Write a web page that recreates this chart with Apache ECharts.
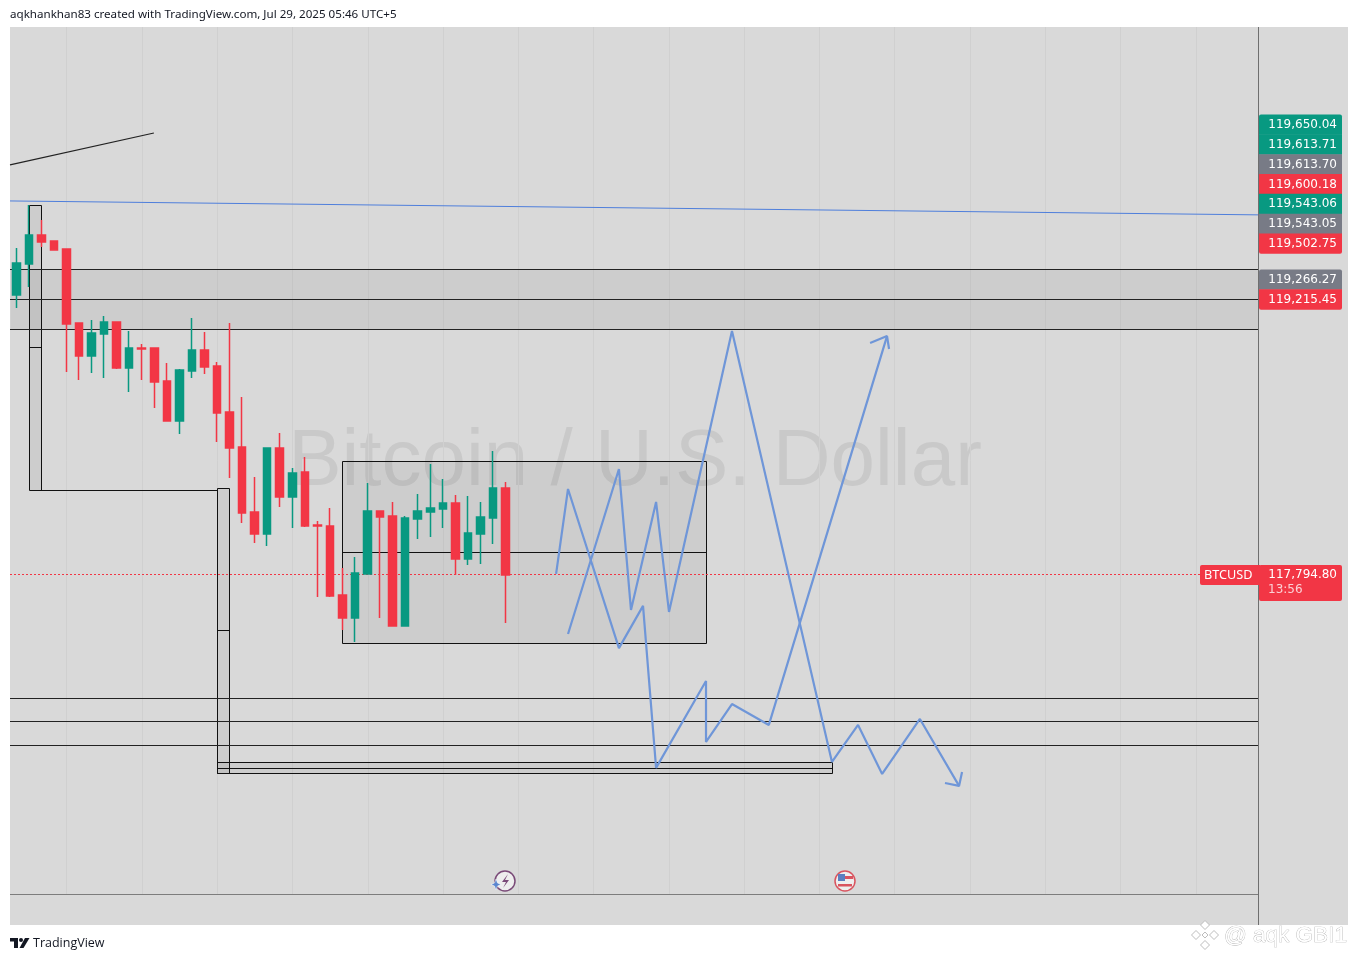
<!DOCTYPE html>
<html><head><meta charset="utf-8">
<style>html,body{margin:0;padding:0;background:#fff}#c{width:1358px;height:961px}</style>
<script src="https://cdn.jsdelivr.net/npm/echarts@6/dist/echarts.min.js"></script>
</head><body><div id="c"></div>
<script>
// ---- candle data (BTCUSD), one entry per bar ----
const opens  = [119236,119396,119546,119515,119474,119092,118921,119035,119097,118859,118962,118962,118792,118585,118843,118952,118869,118632,118451,118115,118001,118446,118193,118322,118048,118043,117686,117567,117795,118120,118094,117526,118079,118115,118131,118162,117872,118001,118084,118239];
const closes = [119401,119546,119510,119469,119086,118921,119040,119097,118859,118962,118957,118787,118585,118849,118952,118864,118627,118446,118110,118001,118446,118193,118317,118043,118043,117681,117567,117800,118120,118089,117526,118084,118120,118136,118162,117872,118007,118089,118239,117790];
const lows   = [119169,119277,119484,119469,118838,118797,118833,118807,118854,118735,118797,118652,118585,118518,118807,118828,118477,118291,118058,117955,117939,118141,118032,118038,117676,117676,117505,117443,117795,117567,117526,117526,117976,117986,118032,117790,117841,117846,117950,117542];
const highs  = [119479,119701,119624,119515,119474,119092,119107,119128,119097,119050,118983,118962,118885,118854,119117,119045,118890,119092,118709,118296,118446,118523,118342,118399,118069,118136,117826,117883,118265,118120,118167,118094,118208,118363,118286,118203,118198,118167,118430,118270];
const gridBars = [4,10,16,22,28,34,40,46,52,58,64,70,76,82,88,94];

// ---- drawings, as [bar, price] ----
const pathA = [[43.03,117795],[43.98,118234],[48.04,117412],[49.96,117630],[51.0,116793],[54.98,117242],[54.98,116927],[57.05,117123],[59.99,117015],[69.41,119024]];
const arrowA = [[68.06,118988],[69.41,119024],[69.57,118957]];
const pathB = [[43.98,117485],[48.04,118337],[49.0,117609],[51.0,118167],[52.03,117599],[57.05,119050],[65.02,116824],[67.1,117015],[69.02,116762],[72.03,117046],[75.15,116700]];
const arrowB = [[74.03,116715],[75.15,116700],[75.39,116772]];
const trendBlack = [[-0.5,119908],[10.97,120073]];
const trendBlue = [[-0.5,119722],[98.98,119650.04]];
const levels = [119370,119215.45,119060,117154,117035,116911];
// [barFrom, barTo, priceTop, priceBottom, priceMid]
const boxes = [[25.97,54.98,118379,117438,117908],[0.98,1.97,119701,118229,118967],[16.0,16.96,118239,116767,117505],[16.0,65.02,116824,116767,116793]];
const zone = [[-0.5,98.98,119370,119060]];
const linkLine = [[1.97,118229],[16.0,118229]];

const lastPrice = 117794.80;
const panePrice = 116141.7;
const priceMin = 115981.5, priceMax = 120620.6, barMin = -0.5, barMax = 98.98;

// ---- texts ----
const tagTextsTop = ['119,650.04','119,613.71','119,613.70','119,600.18','119,543.06','119,543.05','119,502.75'];
const tagKindsTop = ['up','up','flat','down','up','flat','down'];
const tagTextsMid = ['119,266.27','119,215.45'];
const tagKindsMid = ['flat','down'];
const headerText = 'aqkhankhan83 created with TradingView.com, Jul 29, 2025 05:46 UTC+5';
const watermarkText = 'Bitcoin / U.S. Dollar';

const UP='#089981', DOWN='#f23645', FLAT='#787b86', BG='#d9d9d9', BLUE='#6f96d8';
const kind={up:UP,down:DOWN,flat:FLAT};
const tagFont='12px "DejaVu Sans"';

const candleData = opens.map((o,i)=>[i,o,closes[i],lows[i],highs[i]]);
const snap=v=>Math.round(v)+0.5;

function polyline(data,color,width,z){
  return {type:'line',data,showSymbol:false,symbol:'none',silent:true,animation:false,z,
    lineStyle:{color,width},itemStyle:{color},clip:false};
}
function segments(rows,color,width,z,dash){
  return {type:'custom',data:rows,silent:true,animation:false,z,clip:false,
    encode:{x:[0,2],y:[1,3]},
    renderItem(p,api){
      const a=api.coord([api.value(0),api.value(1)]),b=api.coord([api.value(2),api.value(3)]);
      const flatY=api.value(1)===api.value(3), flatX=api.value(0)===api.value(2);
      return {type:'line',shape:{x1:flatX?snap(a[0]):a[0],y1:flatY?snap(a[1]):a[1],x2:flatX?snap(b[0]):b[0],y2:flatY?snap(b[1]):b[1]},
        style:{stroke:color,lineWidth:width,lineDash:dash||null}};
    }};
}
function rects(rows,stroke,z){
  return {type:'custom',data:rows,silent:true,animation:false,z,clip:false,
    encode:{x:[0,1],y:[2,3]},
    renderItem(p,api){
      const a=api.coord([api.value(0),api.value(2)]).map(snap),b=api.coord([api.value(1),api.value(3)]).map(snap);
      const kids=[{type:'rect',shape:{x:a[0],y:a[1],width:b[0]-a[0],height:b[1]-a[1]},
        style:{fill:'rgba(0,0,0,0.05)',stroke:stroke,lineWidth:stroke?1:0}}];
      if(stroke){const m=snap(api.coord([api.value(0),api.value(4)])[1]);
        kids.push({type:'line',shape:{x1:a[0],y1:m,x2:b[0],y2:m},style:{stroke:'#111',lineWidth:1}});}
      return {type:'group',children:kids};
    }};
}

const TAG_X=1259,TAG_W=83,TAG_STEP=19.83;
function tagGroup(texts,kinds,top){
  const out=[];
  texts.forEach((t,i)=>{
    const y=top+i*TAG_STEP;
    out.push({type:'rect',z:20,shape:{x:TAG_X,y,width:TAG_W,height:TAG_STEP+0.5,
      r:[(i===0?2:0),(i===0?2:0),(i===texts.length-1?2:0),(i===texts.length-1?2:0)]},style:{fill:kind[kinds[i]]}});
    out.push({type:'text',z:21,style:{text:t,x:TAG_X+TAG_W-5,y:y+TAG_STEP/2+0.5,align:'right',verticalAlign:'middle',font:tagFont,fill:'#fff'}});
  });
  return out;
}
const diamond=(cx,cy,r)=>({type:'polygon',z:25,shape:{points:[[cx,cy-r],[cx+r,cy],[cx,cy+r],[cx-r,cy]]},style:{fill:'#fff',stroke:'#bdbdbd',lineWidth:1}});

const graphics=[
  {type:'rect',z:-10,shape:{x:10,y:27,width:1338,height:898},style:{fill:BG}},
  {type:'text',z:-5,style:{text:watermarkText,x:635,y:463,align:'center',verticalAlign:'middle',font:'80px "Liberation Sans"',fill:'#c9c9c9'}},
  {type:'text',z:20,style:{text:headerText,x:10,y:14.5,verticalAlign:'middle',font:'11.6px "Noto Sans"',fill:'#131722'}},
  ...tagGroup(tagTextsTop,tagKindsTop,114.5),
  ...tagGroup(tagTextsMid,tagKindsMid,269.5),
  {type:'rect',z:20,shape:{x:1200,y:565,width:60,height:20,r:[2,0,0,2]},style:{fill:DOWN}},
  {type:'text',z:21,style:{text:'BTCUSD',x:1204,y:575.5,verticalAlign:'middle',font:'12.7px "Noto Sans"',fill:'#fff'}},
  {type:'rect',z:20,shape:{x:TAG_X,y:565,width:TAG_W,height:36,r:2},style:{fill:DOWN}},
  {type:'text',z:21,style:{text:'117,794.80',x:TAG_X+TAG_W-5,y:574.5,align:'right',verticalAlign:'middle',font:tagFont,fill:'#fff'}},
  {type:'text',z:21,style:{text:'13:56',x:TAG_X+9,y:590,verticalAlign:'middle',font:tagFont,fill:'#fbd0d5'}},
  // TradingView logo
  {type:'polygon',z:20,shape:{points:[[10,938],[18,938],[18,948],[14,948],[14,941.5],[10,941.5]]},style:{fill:'#131722'}},
  {type:'circle',z:20,shape:{cx:21,cy:940,r:2},style:{fill:'#131722'}},
  {type:'polygon',z:20,shape:{points:[[25,938],[29.5,938],[23.5,948],[19.5,948]]},style:{fill:'#131722'}},
  {type:'text',z:20,style:{text:'TradingView',x:33,y:943.5,verticalAlign:'middle',font:'12.5px "Open Sans"',fill:'#131722'}},
  // event icons
  {type:'circle',z:20,shape:{cx:505,cy:881,r:10},style:{fill:'#eee',stroke:'#7a4a78',lineWidth:1.5}},
  {type:'polygon',z:21,shape:{points:[[508,874],[502,882],[506,882],[503,888],[509,880],[505,880]]},style:{fill:'#7a4a78'}},
  {type:'polygon',z:22,shape:{points:[[496,879],[497.5,883],[501,884.5],[497.5,886],[496,890],[494.5,886],[491,884.5],[494.5,883]]},style:{fill:'#5b86cf',stroke:'#fff',lineWidth:0.5}},
  {type:'circle',z:20,shape:{cx:845,cy:881,r:10},style:{fill:'#eee',stroke:'#d9545f',lineWidth:1.5}},
  {type:'rect',z:21,shape:{x:838,y:874,width:7,height:7},style:{fill:'#5b7fc0'}},
  {type:'rect',z:21,shape:{x:845,y:876,width:8,height:3},style:{fill:'#d9545f'}},
  {type:'rect',z:21,shape:{x:838,y:884,width:14,height:2.5},style:{fill:'#d9545f'}},
  // bottom-right watermark
  diamond(1205,925,4.5),diamond(1196,935,4.5),diamond(1214,935,4.5),diamond(1205,945,4.5),diamond(1205,935,3),
  {type:'text',z:25,style:{text:'@ aqk GBI1',x:1224,y:936,verticalAlign:'middle',font:'22.5px "Liberation Sans"',fill:'#fff',stroke:'#b0b0b0',lineWidth:0.7}}
];

const chart=echarts.init(document.getElementById('c'),null,{renderer:'canvas'});
chart.setOption({
  animation:false,
  backgroundColor:'#fff',
  grid:{left:10,top:27,width:1248,height:898,show:false},
  xAxis:{type:'value',min:barMin,max:barMax,show:false,splitLine:{show:false}},
  yAxis:{type:'value',min:priceMin,max:priceMax,show:false,splitLine:{show:false},scale:true},
  graphic:graphics,
  series:[
    segments(gridBars.map(b=>[b,priceMax,b,panePrice]),'#d0d0d0',1,1),
    rects(zone,null,2),
    rects(boxes,'#111',2),
    segments(levels.map(p=>[barMin,p,barMax,p]),'#222',1,3),
    segments([linkLine[0].concat(linkLine[1])],'#111',1,3),
    segments([[barMin,panePrice,barMax,panePrice]],'#7d7d7d',1,3),
    segments([[barMax,priceMax,barMax,priceMin]],'#6f6f6f',1,3),
    segments([[barMin,lastPrice,94.7,lastPrice]],DOWN,1,3,[2,2]),
    polyline(trendBlack,'#222',1.2,3),
    {type:'candlestick',data:candleData,encode:{x:0,y:[1,2,3,4]},barWidth:8,animation:false,silent:true,z:5,clip:false,
      itemStyle:{color:UP,color0:DOWN,borderColor:UP,borderColor0:DOWN,borderWidth:1.5}},
    polyline(trendBlue,'#4f7fdc',1,6),
    polyline(pathA,BLUE,2.2,7),polyline(arrowA,BLUE,2.2,7),
    polyline(pathB,BLUE,2.2,7),polyline(arrowB,BLUE,2.2,7)
  ]
});
</script></body></html>
